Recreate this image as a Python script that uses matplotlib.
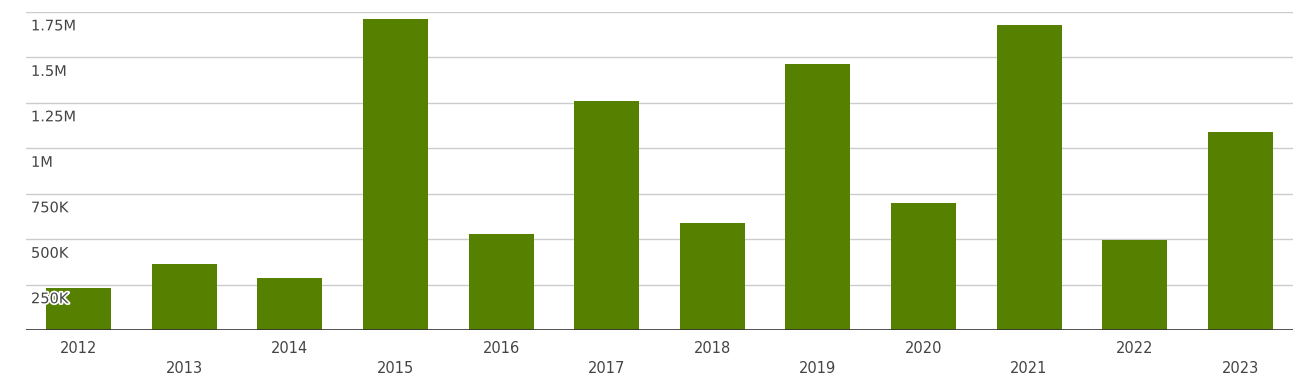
import matplotlib
matplotlib.use("Agg")
import matplotlib.pyplot as plt
import matplotlib.patheffects as pe
import numpy as np

years = ["2012", "2013", "2014", "2015", "2016", "2017",
         "2018", "2019", "2020", "2021", "2022", "2023"]
values = [233000, 365000, 288000, 1709000, 530000, 1263000,
          591000, 1466000, 701000, 1676000, 497000, 1092000]
yticks = [250000, 500000, 750000, 1000000, 1250000, 1500000, 1750000]
ytick_labels = ["250K", "500K", "750K", "1M", "1.25M", "1.5M", "1.75M"]

W, H = 1293, 384
fig = plt.figure(figsize=(W / 100, H / 100), dpi=100)
ax = fig.add_axes([26 / W, (H - 330.3) / H, 1 - 26 / W, (330.3 - 12) / H])

x = np.arange(len(years))
ax.bar(x, values, width=0.615, color="#558000", zorder=2)
ax.set_xlim(-0.5, len(years) - 0.5)
ax.set_ylim(0, 1750000)

# grid lines
for t in yticks:
    ax.axhline(t, color="#cccccc", lw=1, zorder=1)
ax.axhline(0, color="#333333", lw=1.2, zorder=3)

for s in ax.spines.values():
    s.set_visible(False)
ax.set_xticks([])
ax.set_yticks([])

# y labels inside the plot, just under each grid line
for t, lab in zip(yticks, ytick_labels):
    ax.annotate(lab, xy=(0, t), xycoords=("axes fraction", "data"),
                xytext=(3.6, -4.6), textcoords="offset points",
                ha="left", va="top", fontsize=10.5, color="#444444", zorder=4,
                path_effects=[pe.withStroke(linewidth=2.5, foreground="white")])

# x labels staggered on two rows
for i, yr in enumerate(years):
    off = -13.3 if i % 2 == 0 else -27.7
    ax.annotate(yr, xy=(i, 0), xycoords="data",
                xytext=(0, off), textcoords="offset points",
                ha="center", va="center", fontsize=10.5, color="#444444")

fig.savefig("out.png", dpi=100)
